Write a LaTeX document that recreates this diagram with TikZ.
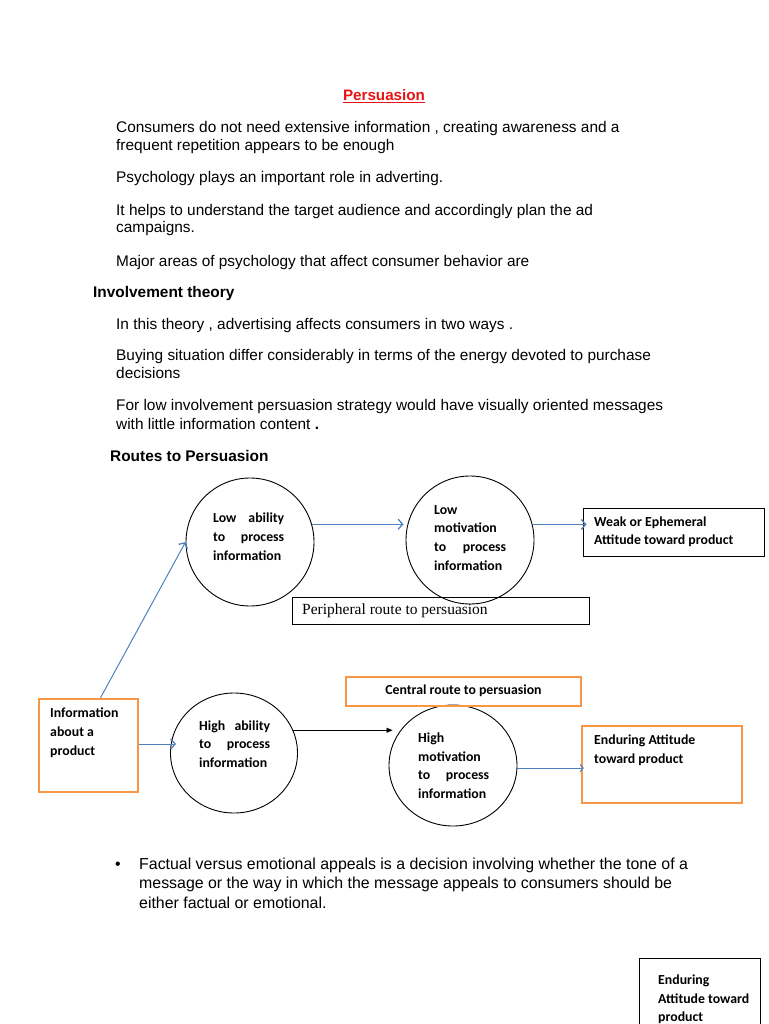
\documentclass[tikz,border=0pt]{standalone}
\usepackage{fontspec}
\setmainfont{Liberation Sans}
\newfontfamily\diagfont{Carlito}
\newfontfamily\serifface{Liberation Serif}
\usetikzlibrary{arrows.meta,calc,shapes.geometric}
\definecolor{boxorange}{RGB}{247,150,70}
\definecolor{arrowblue}{RGB}{79,129,189}
\definecolor{titlered}{RGB}{230,20,20}
\begin{document}
\begin{tikzpicture}[x=1pt,y=-1pt,
  txt/.style={anchor=base west,inner sep=0pt,font=\fontsize{15.4}{18}\selectfont},
  btxt/.style={anchor=base west,inner sep=0pt,font=\fontsize{15.9}{18}\selectfont},
  htxt/.style={anchor=base west,inner sep=0pt,font=\bfseries\fontsize{15.4}{18}\selectfont},
  dtxt/.style={anchor=base west,inner sep=0pt,font=\diagfont\bfseries\fontsize{13.8}{16}\selectfont},
  circ/.style={ellipse,draw,line width=0.9pt,inner sep=0pt},
  obox/.style={draw=boxorange,line width=2.4pt,inner sep=0pt},
  bbox/.style={draw,line width=0.8pt,inner sep=0pt},
  barrow/.style={draw=arrowblue,line width=1pt,-{Straight Barb[length=4.5pt,width=10pt,line width=1.3pt]}},
  karrow/.style={draw,line width=0.8pt,-{Triangle[length=6pt,width=5pt]}}
]
\useasboundingbox (0,0) rectangle (768,1024);
\clip (0,0) rectangle (768,1024);

% title
\node[anchor=base,inner sep=0pt,text=titlered,font=\bfseries\fontsize{15.2}{18}\selectfont] (title) at (384,101) {\underline{Persuasion}};

% body text
\node[txt] (p1a) at (116,133) {Consumers do not need extensive information , creating awareness and a};
\node[txt] (p1b) at (116,151) {frequent repetition appears to be enough};
\node[txt] (p2) at (116,183) {Psychology plays an important role in adverting.};
\node[txt] (p3a) at (116,215) {It helps to understand the target audience and accordingly plan the ad};
\node[txt] (p3b) at (116,233) {campaigns.};
\node[txt] (p4) at (116,266) {Major areas of psychology that affect consumer behavior are};
\node[htxt] (h1) at (93,297) {Involvement theory};
\node[txt] (q1) at (116,329) {In this theory , advertising affects consumers in two ways .};
\node[txt] (q2a) at (116,360) {Buying situation differ considerably in terms of the energy devoted to purchase};
\node[txt] (q2b) at (116,378) {decisions};
\node[txt] (q3a) at (116,410) {For low involvement persuasion strategy would have visually oriented messages};
\node[txt] (q3b) at (116,429) {with little information content \textbf{.}};
\node[htxt] (h2) at (110,461) {Routes to Persuasion};

% circles
\node[circ,minimum width=128pt,minimum height=128pt] (c1) at (250,542) {};
\node[circ,minimum width=128pt,minimum height=128pt] (c2) at (470,540) {};
\node[circ,minimum width=127pt,minimum height=120pt] (c3) at (234,753) {};
\node[circ,minimum width=128pt,minimum height=121pt] (c4) at (453,765.5) {};

% boxes
\node[bbox,minimum width=181pt,minimum height=48pt] (weak) at (673.5,532) {};
\node[bbox,minimum width=297pt,minimum height=27pt] (periph) at (440.5,610.5) {};
\node[obox,minimum width=99pt,minimum height=93pt] (info) at (88.5,745.5) {};
\node[obox,minimum width=235pt,minimum height=29pt] (central) at (463.5,691.5) {};
\node[obox,minimum width=160pt,minimum height=77pt] (endur) at (662,764.5) {};
\node[bbox,minimum width=121pt,minimum height=76pt] (bottom) at (699.5,996) {};

% circle texts
\node[dtxt] (t1a) at (213,522) {\makebox[71pt][s]{Low ability}};
\node[dtxt] (t1b) at (213,541) {\makebox[71pt][s]{to process}};
\node[dtxt] (t1c) at (213,560) {information};

\node[dtxt] (t2a) at (434,514) {Low};
\node[dtxt] (t2b) at (434,532) {motivation};
\node[dtxt] (t2c) at (434,551) {\makebox[72pt][s]{to process}};
\node[dtxt] (t2d) at (434,570) {information};

\node[dtxt] (t3a) at (199,730) {\makebox[71pt][s]{High ability}};
\node[dtxt] (t3b) at (199,748) {\makebox[71pt][s]{to process}};
\node[dtxt] (t3c) at (199,767) {information};

\node[dtxt] (t4a) at (418,742) {High};
\node[dtxt] (t4b) at (418,761) {motivation};
\node[dtxt] (t4c) at (418,779) {\makebox[71pt][s]{to process}};
\node[dtxt] (t4d) at (418,798) {information};

% box texts
\node[dtxt] (tw1) at (594,526) {Weak or Ephemeral};
\node[dtxt] (tw2) at (594,544) {Attitude toward product};
\node[anchor=base west,inner sep=0pt,font=\serifface\fontsize{15.5}{18}\selectfont] (tp) at (302,614) {Peripheral route to persuasion};
\node[dtxt] (ti1) at (50,717) {Information};
\node[dtxt] (ti2) at (50,736) {about a};
\node[dtxt] (ti3) at (50,755) {product};
\node[anchor=base,inner sep=0pt,font=\diagfont\bfseries\fontsize{13.8}{16}\selectfont] (tc) at (463.5,694) {Central route to persuasion};
\node[dtxt] (te1) at (594,744) {Enduring Attitude};
\node[dtxt] (te2) at (594,763) {toward product};
\node[dtxt] (tb1) at (658,984) {Enduring};
\node[dtxt] (tb2) at (658,1003) {Attitude toward};
\node[dtxt] (tb3) at (658,1021) {product};

% bullet
\node[btxt] (bul) at (115,869) {\textbullet};
\node[btxt] (b1) at (139,869) {Factual versus emotional appeals is a decision involving whether the tone of a};
\node[btxt] (b2) at (139,888) {message or the way in which the message appeals to consumers should be};
\node[btxt] (b3) at (139,908) {either factual or emotional.};

% connectors
\draw[barrow] ($(info.north)+(12,0)$) -- (c1.west);
\draw[barrow] (c1.16) -- ($(c1.16 -| c2.west)+(-2,0)$);
\draw[barrow] (c2.14) -- ($(c2.14 -| weak.west)+(4,0)$);
\draw[barrow] ($(info.east)+(0,-1.5)$) -- ($(info.east -| c3.west)+(6,-1.5)$);
\draw[karrow] (c3.21) -- ($(c3.21 -| c4.west)+(4,0)$);
\draw[draw=arrowblue,line width=0.8pt,-{Straight Barb[length=3pt,width=7pt,line width=1pt]}] ($(c4.east)+(0,2.5)$) -- ($(c4.east -| endur.west)+(3,2.5)$);
\end{tikzpicture}
\end{document}
